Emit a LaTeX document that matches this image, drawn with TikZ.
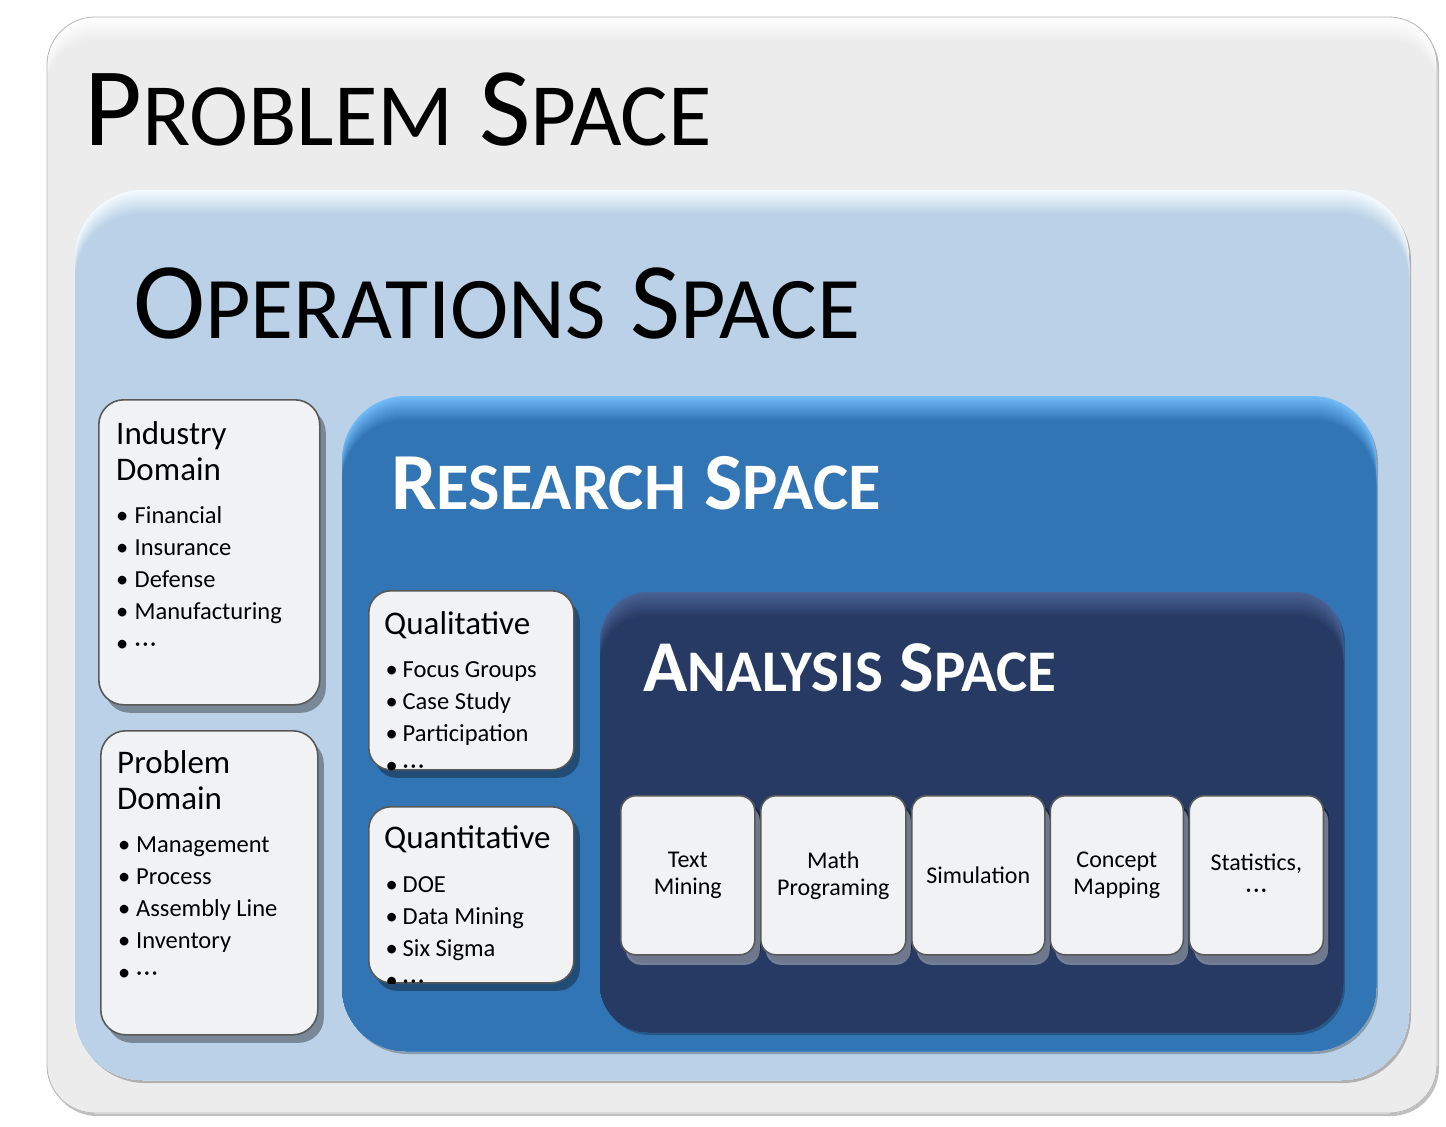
\documentclass[tikz,border=0pt]{standalone}
\usepackage{fontspec}
\setmainfont{Carlito}
\usetikzlibrary{shadows}

\definecolor{problemgray}{HTML}{ECECEC}
\definecolor{problemline}{HTML}{B4B4B4}
\definecolor{opsblue}{HTML}{BAD1E7}
\definecolor{opshigh}{HTML}{F4FBFF}
\definecolor{researchblue}{HTML}{3275B5}
\definecolor{researchhigh}{HTML}{72BCF8}
\definecolor{analysisnavy}{HTML}{273A64}
\definecolor{analysishigh}{HTML}{4A6294}
\definecolor{cardfill}{HTML}{F1F2F4}
\definecolor{cardline}{HTML}{595959}
\definecolor{glowgray}{HTML}{A9B0BE}

% a word in small capitals: big first letter, smaller rest
\newcommand\scword[4]{{\fontsize{#1}{#1}\selectfont#3\fontsize{#2}{#2}\selectfont#4}}
% centred ellipsis
\newcommand\middots{·\kern1.6pt·\kern1.6pt·}

% bevelled space: x1,y1,x2,y2,radius,base colour,highlight colour
\newcommand\spacebox[7]{%
  \path[rounded corners=#5, drop shadow={shadow xshift=2pt, shadow yshift=-3pt,
    opacity=0.25, fill=black}] (#1,#2) rectangle (#3,#4);
  \foreach \k in {0,...,24}{
    \pgfmathtruncatemacro\mixp{100*\k/24}
    \fill[#6!\mixp!#7, rounded corners=#5] (#1,#2+\k) rectangle (#3,#4);
  }}

\tikzset{
  card/.style={draw=cardline, line width=1.6pt, fill=cardfill,
    rounded corners=22pt, anchor=north west, inner sep=0pt,
    drop shadow={shadow xshift=6pt, shadow yshift=-8pt, opacity=0.35, fill=black}},
  toolcard/.style={card, rounded corners=15pt, minimum height=159pt,
    align=center, font=\fontsize{24}{27}\selectfont,
    drop shadow={shadow xshift=5pt, shadow yshift=-10pt, opacity=0.6, fill=glowgray}},
  cardtitle/.style={anchor=base west, inner sep=0pt, font=\fontsize{33}{33}\selectfont},
  item/.style={anchor=base west, inner sep=0pt, font=\fontsize{24.5}{24.5}\selectfont},
}

\begin{document}
\begin{tikzpicture}[x=1pt, y=-1pt]
  \useasboundingbox (0,0) rectangle (1446,1127);

  % Nested spaces
  \spacebox{47}{17}{1437}{1113}{48pt}{problemgray}{white}
  \draw[problemline, line width=0.8pt, rounded corners=48pt] (47,17) rectangle (1437,1113);
  \spacebox{75}{190}{1409}{1080}{68pt}{opsblue}{opshigh}
  \spacebox{342}{396}{1376}{1051}{64pt}{researchblue}{researchhigh}
  \spacebox{600}{592}{1343}{1032}{48pt}{analysisnavy}{analysishigh}

  % Space titles
  \node[anchor=base west, inner sep=0pt, font=\fontsize{112}{112}\selectfont] (problemtitle)
    at (84,145) {\scword{112}{89}{P}{ROBLEM} \scword{112}{89}{S}{PACE}};
  \node[anchor=base west, inner sep=0pt, font=\fontsize{109}{109}\selectfont] (opstitle)
    at (133,338) {\scword{109}{88}{O}{PERATIONS} \scword{109}{88}{S}{PACE}};
  \node[anchor=base west, inner sep=0pt, text=white, font=\bfseries\fontsize{81}{81}\selectfont] (researchtitle)
    at (391,509) {\scword{81}{66.5}{R}{ESEARCH} \scword{81}{66.5}{S}{PACE}};
  \node[anchor=base west, inner sep=0pt, text=white, font=\bfseries\fontsize{73}{73}\selectfont] (analysistitle)
    at (643,691) {\scword{73}{59}{A}{NALYSIS} \scword{73}{59}{S}{PACE}};

  % Industry domain
  \node[card, rounded corners=25pt, minimum width=221pt, minimum height=305pt] (industry) at (98,399) {};
  \node[cardtitle] (industryA) at (116,444) {Industry};
  \node[cardtitle] (industryB) at (116,480) {Domain};
  \foreach \txt [count=\i from 0] in {Financial, Insurance, Defense, Manufacturing, \middots}
    \node[item] (industry\i) at (116,523+32.2*\i) {\makebox[18.5pt][l]{\textbullet}\txt};

  % Problem domain
  \node[card, rounded corners=25pt, minimum width=217pt, minimum height=304pt] (problem) at (100,730) {};
  \node[cardtitle] (problemA) at (117,773) {Problem};
  \node[cardtitle] (problemB) at (117,809) {Domain};
  \foreach \txt [count=\i from 0] in {Management, Process, Assembly Line, Inventory, \middots}
    \node[item] (problem\i) at (118,852.7+32*\i) {\makebox[18pt][l]{\textbullet}\txt};

  % Qualitative methods
  \node[card, minimum width=205pt, minimum height=179pt] (qual) at (368,590) {};
  \node[cardtitle] (qualtitle) at (384,634) {Qualitative};
  \begin{scope}
    \clip[rounded corners=22pt] (qual.north west) rectangle (qual.south east);
    \foreach \txt [count=\i from 0] in {Focus Groups, Case Study, Participation, \middots}
      \node[item] (qual\i) at (385.5,677.3+32*\i) {\makebox[17pt][l]{\textbullet}\txt};
  \end{scope}

  % Quantitative methods
  \node[card, minimum width=205pt, minimum height=176pt] (quant) at (368,806) {};
  \node[cardtitle] (quanttitle) at (384,848) {Quantitative};
  \begin{scope}
    \clip[rounded corners=22pt] (quant.north west) rectangle (quant.south east);
    \foreach \txt [count=\i from 0] in {DOE, Data Mining, Six Sigma, \middots}
      \node[item] (quant\i) at (385.5,892.7+32*\i) {\makebox[17pt][l]{\textbullet}\txt};
  \end{scope}

  % Analysis tools
  \foreach \x/\w/\txt [count=\i] in {620/134/Text\\Mining, 760/145/Math\\Programing,
      911/133/Simulation, 1049.5/133/Concept\\Mapping, 1188.5/134/{Statistics,\\\middots}}
    \node[toolcard, minimum width=\w pt] (tool\i) at (\x,795) {\txt};
\end{tikzpicture}
\end{document}
